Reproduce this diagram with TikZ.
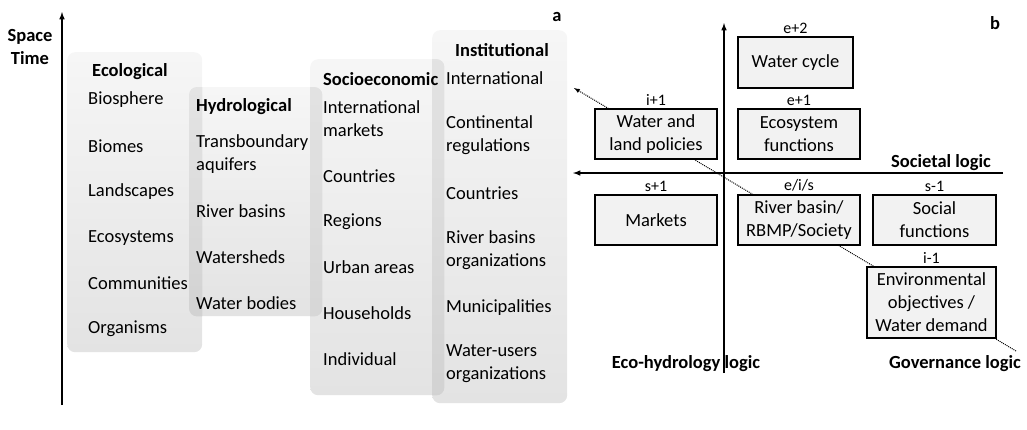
\documentclass[tikz,border=0pt]{standalone}
\usepackage{fontspec}
\setmainfont{Carlito}
\usetikzlibrary{positioning}

\tikzset{
	panel/.style={rounded corners=8pt, top color=gray!7, bottom color=gray!22, minimum width=135pt, inner sep=0pt, anchor=north west},
	overlap/.style={black, fill opacity=0.07, rounded corners=8pt},
	item/.style={anchor=west, inner sep=0pt, align=left, font=\fontsize{18.5}{23}\selectfont},
	head/.style={item, font=\fontsize{18.5}{23}\selectfont\bfseries},
	qbox/.style={draw, line width=2.8pt, fill=gray!10, align=center, inner sep=0pt, minimum height=50pt, minimum width=122pt, font=\fontsize{18.5}{23}\selectfont},
	lvl/.style={inner sep=1pt, font=\fontsize{16}{19}\selectfont},
	axis/.style={line width=1.5pt, -latex},
	bold/.style={inner sep=0pt, align=center, font=\fontsize{18.5}{23}\selectfont\bfseries}
}

\begin{document}
\begin{tikzpicture}[x=1pt, y=1pt, yscale=-1]
	\useasboundingbox (0,0) rectangle (1027,429);
	% a: scales
	\coordinate (st0) at (62,405);
	\coordinate (st1) at (62,12);
	\draw[axis] (st0) -- (st1);
	\node[bold] (spacetime) at (30,46.5) {Space\\Time};
	\node[bold] (tagA) at (557,17) {a};

	\node[panel, minimum height=300pt] (ecol) at (67,52) {};
	\node[panel, minimum width=133pt, minimum height=229pt] (hydro) at (189,87) {};
	\node[panel, minimum width=134pt, minimum height=336pt] (socio) at (310,59) {};
	\node[panel, minimum height=373pt] (inst) at (432,30) {};
	% darker where panels overlap
	\begin{scope}
		\clip[rounded corners=8pt] (ecol.north west) rectangle (ecol.south east);
		\fill[overlap] (hydro.north west) rectangle (hydro.south east);
	\end{scope}
	\begin{scope}
		\clip[rounded corners=8pt] (hydro.north west) rectangle (hydro.south east);
		\fill[overlap] (socio.north west) rectangle (socio.south east);
	\end{scope}
	\begin{scope}
		\clip[rounded corners=8pt] (socio.north west) rectangle (socio.south east);
		\fill[overlap] (inst.north west) rectangle (inst.south east);
	\end{scope}

	\node[head] (ecolhead) at (92,72) {Ecological};
	\node[item] at (88,100) {Biosphere};
	\node[item] at (88,146) {Biomes};
	\node[item] at (88,192) {Landscapes};
	\node[item] at (88,238) {Ecosystems};
	\node[item] at (88,283) {Communities};
	\node[item] at (88,329) {Organisms};

	\node[head] (hydrohead) at (196,107) {Hydrological};
	\node[item] at (196,154.5) {Transboundary\\aquifers};
	\node[item] at (196,211) {River basins};
	\node[item] at (196,257) {Watersheds};
	\node[item] at (196,303) {Water bodies};

	\node[head] (sociohead) at (323,79) {Socioeconomic};
	\node[item] at (323,118.5) {International\\markets};
	\node[item] at (323,176) {Countries};
	\node[item] at (323,222) {Regions};
	\node[item] at (323,267) {Urban areas};
	\node[item] at (323,313) {Households};
	\node[item] at (323,359) {Individual};

	\node[head, anchor=center] (insthead) at (502,50) {Institutional};
	\node[item] at (446,78) {International};
	\node[item] at (446,135) {Continental\\regulations};
	\node[item] at (446,193) {Countries};
	\node[item] at (446,250.5) {River basins\\organizations};
	\node[item] at (446,308) {Municipalities};
	\node[item] at (446,364) {Water-users\\organizations};

	% b: logics
	\node[bold] (tagB) at (995,23) {b};
	\coordinate (ehbot) at (724,373);
	\coordinate (ehtop) at (724,23);
	\coordinate (slright) at (1003,173);
	\coordinate (slleft) at (573,173);
	\coordinate (glbot) at (1016,351);
	\coordinate (gltop) at (574,88);
	\draw[axis] (ehbot) -- (ehtop);
	\draw[axis] (slright) -- (slleft);
	\draw[densely dotted, line width=1pt, -latex] (glbot) -- (gltop);

	\node[qbox, minimum width=115pt, minimum height=51pt] (wcycle) at (795.5,62.5) {Water cycle};
	\node[qbox] (wland) at (656,134) {Water and\\land policies};
	\node[qbox] (ecofun) at (799,134) {Ecosystem\\functions};
	\node[qbox] (markets) at (656,220) {Markets};
	\node[qbox] (rbasin) at (799,220) {River basin/\\RBMP/Society};
	\node[qbox, minimum width=123pt] (socfun) at (934.5,220) {Social\\functions};
	\node[qbox, minimum width=129pt, minimum height=71pt] (envobj) at (931.5,302.5) {Environmental\\objectives /\\Water demand};

	\node[lvl, anchor=south] at ([yshift=-1pt]wcycle.north) {e+2};
	\node[lvl, anchor=south] at ([yshift=-1pt]wland.north) {i+1};
	\node[lvl, anchor=south] at ([yshift=-1pt]ecofun.north) {e+1};
	\node[lvl, anchor=south] at ([yshift=-1pt]markets.north) {s+1};
	\node[lvl, anchor=south] at ([yshift=-1pt]rbasin.north) {e/i/s};
	\node[lvl, anchor=south] at ([yshift=-1pt]socfun.north) {s-1};
	\node[lvl, anchor=south] at ([yshift=-1pt]envobj.north) {i-1};

	\node[bold] (societal) at (941,163) {Societal logic};
	\node[bold] (ecohydro) at (686,364) {Eco-hydrology logic};
	\node[bold] (governance) at (955,364) {Governance logic};
\end{tikzpicture}
\end{document}
